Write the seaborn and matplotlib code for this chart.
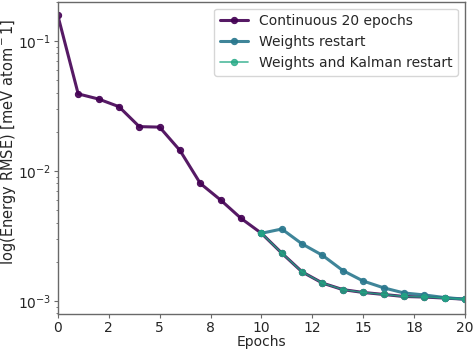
import numpy as np
import pandas as pd
import seaborn as sb
import matplotlib
matplotlib.use("Agg")
import matplotlib.pyplot as plt
from matplotlib.ticker import MultipleLocator, FormatStrFormatter

# data
epochs = list(range(21))
continuous = [0.157, 0.0391, 0.0357, 0.0312, 0.0219, 0.0217, 0.01435, 0.0080, 0.00596, 0.00431,
              0.00331, 0.00233, 0.00167, 0.00137, 0.00122, 0.00116, 0.00112, 0.00108, 0.00107, 0.00105, 0.00103]
restart_epochs = list(range(10, 21))
weights_restart = [0.00331, 0.00357, 0.00274, 0.00224, 0.00171, 0.00142, 0.00126, 0.00115, 0.00111, 0.00106, 0.00103]
kalman_restart = [0.00331, 0.00233, 0.00167, 0.00137, 0.00122, 0.00116, 0.00112, 0.00108, 0.00107, 0.00105, 0.00103]

labels = ["Continuous 20 epochs", "Weights restart", "Weights and Kalman restart"]
colors = ["#440154", "#2a788e", "#22a884"]

sb.set_style("white")
plt.rcParams['font.family'] = ['DejaVu Sans']
fig = plt.figure(figsize=(4.74, 3.51), dpi=100)
ax = fig.add_axes([0.122, 0.105, 0.859, 0.890])

sb.lineplot(x=epochs, y=continuous, ax=ax, color=colors[0], lw=2.2, marker='o', ms=4.5,
            mec=colors[0], alpha=0.9, label=labels[0])
sb.lineplot(x=restart_epochs, y=weights_restart, ax=ax, color=colors[1], lw=2.2, marker='o', ms=4.5,
            mec=colors[1], alpha=0.9, label=labels[1])
sb.lineplot(x=restart_epochs, y=kalman_restart, ax=ax, color=colors[2], lw=1.2, marker='o', ms=4.5,
            mec=colors[2], alpha=0.8, label=labels[2])

ax.set_yscale("log")
ax.set_xlim(0, 20)
ax.set_ylim(7.9e-4, 0.2)
ax.xaxis.set_major_locator(MultipleLocator(2.5))
ax.xaxis.set_major_formatter(FormatStrFormatter("%.0f"))
ax.tick_params(axis='both', which='both', direction='out', labelsize=10, color='dimgray', pad=2)
ax.tick_params(axis='both', which='major', length=3, bottom=True, left=True)
ax.tick_params(axis='y', which='minor', length=1.8, left=True)
for b in ['top', 'bottom', 'left', 'right']:
    ax.spines[b].set_color('dimgray')
    ax.spines[b].set_linewidth(1.0)

ax.set_xlabel("Epochs", fontsize=10, labelpad=0)
ax.set_ylabel(r"log(Energy RMSE) [meV atom$^-$1]", fontsize=10.5)
ax.yaxis.set_label_coords(-0.097, 0.55)
ax.legend(loc='upper right', fontsize=10, frameon=True, handlelength=2)

plt.savefig("out.png", dpi=100)
